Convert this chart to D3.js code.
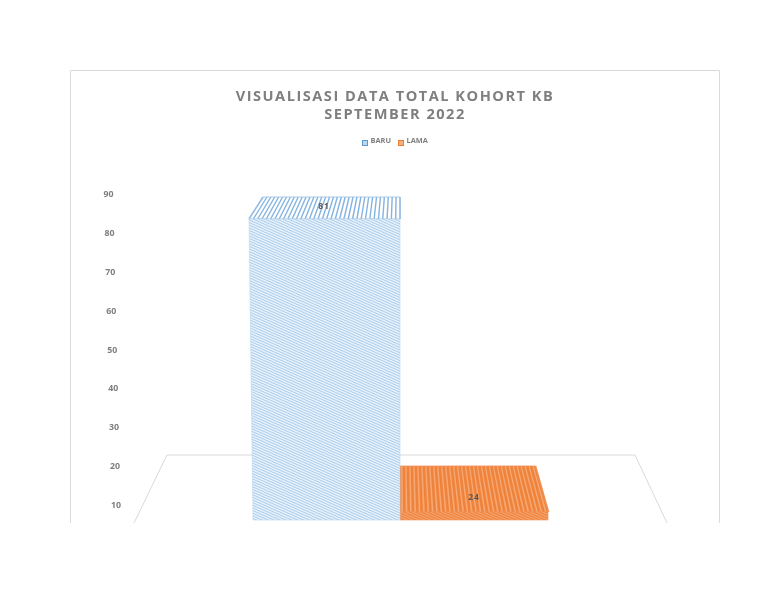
<!DOCTYPE html>
<html>
<head>
<meta charset="utf-8">
<script src="https://cdn.jsdelivr.net/npm/d3@7"></script>
<style>
  html, body { margin: 0; padding: 0; background: #fff; }
  text { font-family: "Open Sans", sans-serif; }
  svg { filter: blur(0.35px); } /* source is a soft scan */
</style>
</head>
<body>
<div id="viz"></div>
<script>
var categories = ["BARU", "LAMA"];
var values = [81, 24];
var valueLabels = ["81", "24"];
var tickValues = [10, 20, 30, 40, 50, 60, 70, 80, 90];
var titleLines = ["VISUALISASI DATA TOTAL KOHORT KB", "SEPTEMBER 2022"];
var colors = { BARU: "#5b9bd5", LAMA: "#ed7d31" };

var width = 768, height = 594;
var cropBottom = 523; // the source is cut off here, the chart carries on below

var svg = d3.select("#viz").append("svg")
    .attr("width", width)
    .attr("height", height)
    .style("display", "block");

var defs = svg.append("defs");
defs.append("clipPath").attr("id", "crop")
    .append("rect").attr("x", 0).attr("y", 0).attr("width", width).attr("height", cropBottom);

function hatch(id, color, fill) {
    var p = defs.append("pattern").attr("id", id)
        .attr("patternUnits", "userSpaceOnUse")
        .attr("width", 2.4).attr("height", 2.4)
        .attr("patternTransform", "rotate(24)");
    p.append("rect").attr("width", 2.4).attr("height", 2.4).attr("fill", fill);
    p.append("line").attr("x1", 0).attr("x2", 2.4).attr("y1", 1.2).attr("y2", 1.2)
        .attr("stroke", color).attr("stroke-width", 1.1);
}
hatch("hatchBaru", "#a6cbec", "#f3f8fd");
hatch("hatchLama", "#ed7d31", "#f6a772");

// perspective: front and back faces use different vertical scales
var yAxis = d3.scaleLinear().domain([10, 90]).range([505, 194]);
var xAxis = d3.scaleLinear().domain([10, 90]).range([116, 108.5]);
var yFront = d3.scaleLinear().domain([24, 81]).range([512, 219]);
var yBack = d3.scaleLinear().domain([24, 81]).range([466, 197]);

// front and back x positions of the bar edges
var xFront = d3.scaleLinear().domain([0, 1, 2]).range([249, 400, 548]);
var xBack = d3.scaleLinear().domain([0, 1, 2]).range([263, 400, 535]);

// card border
svg.append("path")
    .attr("d", "M70.5," + cropBottom + "V70.5H719.5V" + cropBottom)
    .attr("fill", "none").attr("stroke", "#d9d9d9");

// title
svg.append("text")
    .attr("text-anchor", "middle")
    .attr("fill", "#7f7f7f")
    .attr("font-size", 14.6)
    .attr("font-weight", 700)
    .attr("letter-spacing", 1.5)
    .selectAll("tspan").data(titleLines).join("tspan")
    .attr("x", 395)
    .attr("y", function (d, i) { return 101 + i * 18; })
    .text(function (d) { return d; });

// legend
var legendX = d3.scaleOrdinal().domain(categories).range([362, 398]);
var legend = svg.selectAll("g.legend").data(categories).join("g")
    .attr("class", "legend")
    .attr("transform", function (d) { return "translate(" + legendX(d) + ",0)"; });
legend.append("rect")
    .attr("x", 0.5).attr("y", 140.5).attr("width", 5).attr("height", 5)
    .attr("fill", function (d) { return d === "BARU" ? "#bdd7ee" : "#f4b183"; })
    .attr("stroke", function (d) { return colors[d]; });
legend.append("text")
    .attr("x", 8.5).attr("y", 142.5)
    .attr("font-size", 7.4).attr("font-weight", 700)
    .attr("fill", "#7f7f7f")
    .text(function (d) { return d; });

// value axis labels
svg.selectAll("text.tick").data(tickValues).join("text")
    .attr("class", "tick")
    .attr("x", function (d) { return xAxis(d); })
    .attr("y", function (d) { return yAxis(d) + 3; })
    .attr("text-anchor", "middle")
    .attr("font-size", 8.8)
    .attr("font-weight", 700)
    .attr("fill", "#7f7f7f")
    .text(function (d) { return d; });

var chart = svg.append("g").attr("clip-path", "url(#crop)");

// floor
chart.append("path")
    .attr("d", d3.line()([[134, 523], [167, 455], [635, 455], [667, 523]]))
    .attr("fill", "none").attr("stroke", "#d9d9d9");

function drawBar(i) {
    var cat = categories[i], v = values[i];
    var l = xFront(i), r = xFront(i + 1), bl = xBack(i), br = xBack(i + 1);
    var front = yFront(v), back = yBack(v);
    var stripe = cat === "BARU" ? "#6ea6db" : "#ed7d31";
    var topFill = cat === "BARU" ? "#ffffff" : "#f6a772";
    var topShape = [[l, front], [bl, back], [br, back], [r, front]];

    // top face
    chart.append("path").attr("d", d3.line()(topShape) + "Z").attr("fill", topFill);
    // stripes fan out with the perspective
    var n = cat === "BARU" ? 35 : 34;
    var t = d3.scaleLinear().domain([0, n]);
    d3.range(n + 1).forEach(function (k) {
        chart.append("line")
            .attr("x1", t.range([l, r])(k)).attr("y1", front)
            .attr("x2", t.range([bl, br])(k)).attr("y2", back)
            .attr("stroke", stripe)
            .attr("stroke-opacity", 0.85)
            .attr("stroke-width", cat === "BARU" ? 1.4 : 2.6);
    });
    chart.append("path").attr("d", d3.line()(topShape) + "Z")
        .attr("fill", "none").attr("stroke", cat === "BARU" ? "#9dbfdf" : "#f0915a").attr("stroke-width", 0.8);

    // front face
    var slant = cat === "BARU" ? 4 : 0;
    chart.append("path")
        .attr("d", d3.line()([[l, front], [r, front], [r, 520], [l + slant, 520]]) + "Z")
        .attr("fill", "url(#hatch" + (cat === "BARU" ? "Baru" : "Lama") + ")")
        .attr("stroke", cat === "BARU" ? "#bcd6ee" : "#f0915a")
        .attr("stroke-width", 0.6);

    // value label sits on the top face
    chart.append("text")
        .attr("x", cat === "BARU" ? 324 : 474)
        .attr("y", cat === "BARU" ? back + 12 : back + 34)
        .attr("text-anchor", "middle")
        .attr("font-size", 8.5)
        .attr("font-weight", 700)
        .attr("letter-spacing", 0.8)
        .attr("fill", "#595959")
        .text(valueLabels[i]);
}
drawBar(1);
drawBar(0);
</script>
</body>
</html>
